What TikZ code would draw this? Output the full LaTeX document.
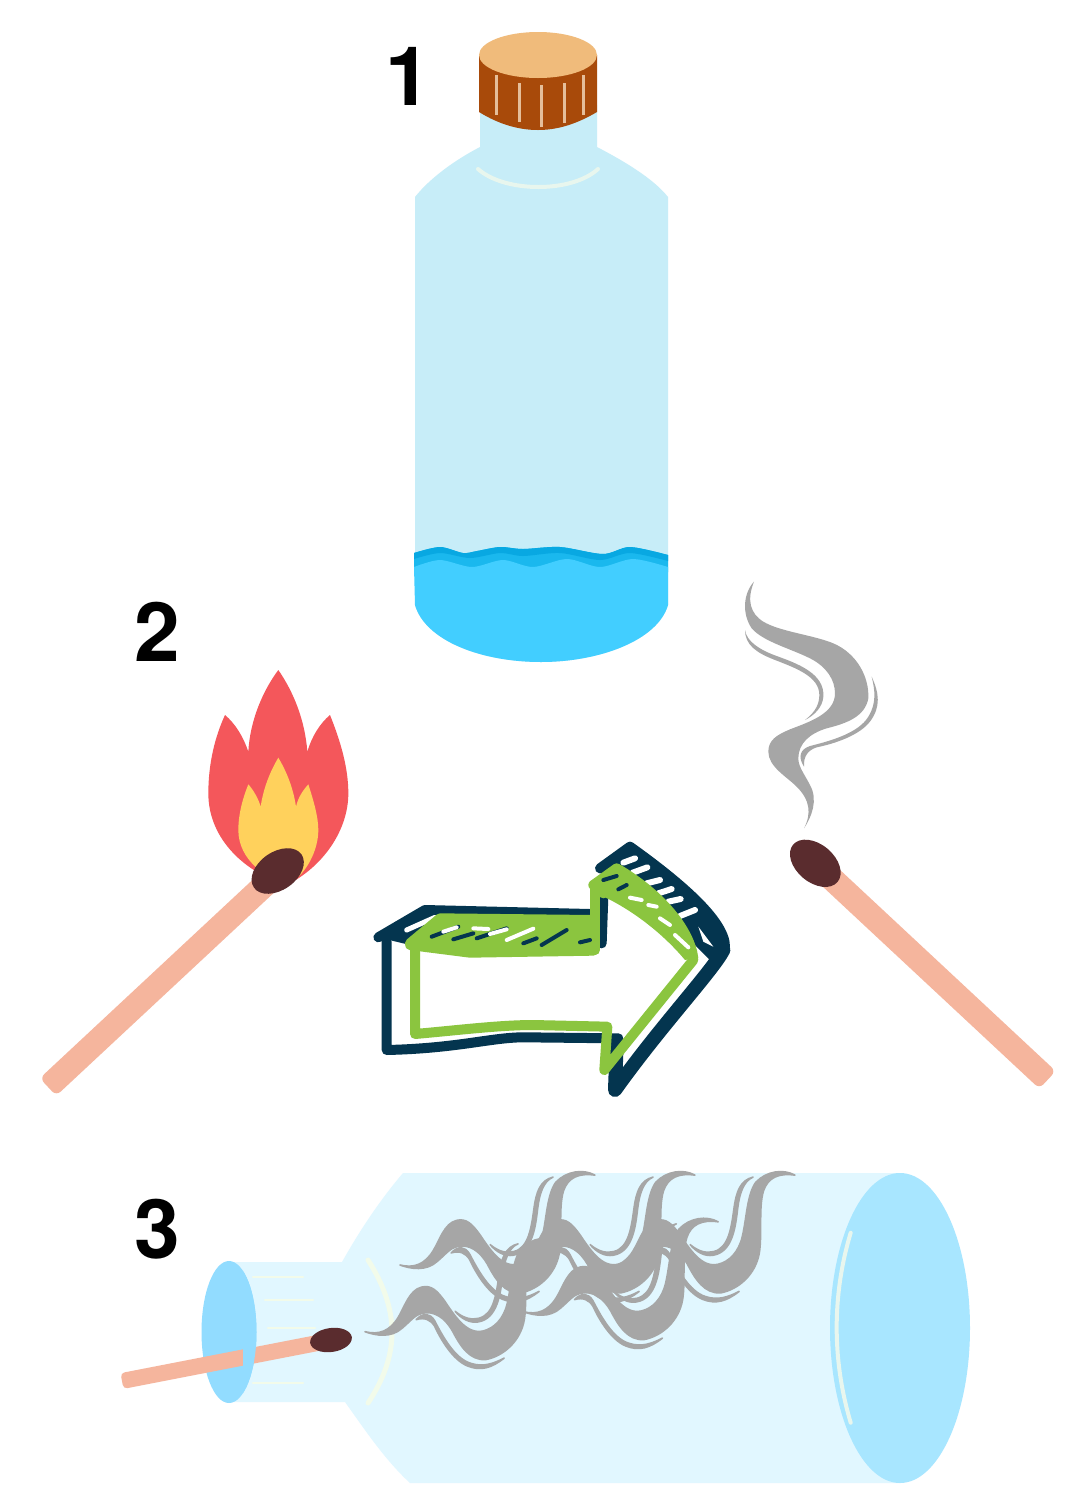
\documentclass[tikz,border=0pt]{standalone}
\usepackage{fontspec}
\setmainfont{TeX Gyre Heros}
\definecolor{glass}{HTML}{C7EDF8}
\definecolor{waterblue}{HTML}{42CEFF}
\definecolor{waveblue}{HTML}{1AB8EE}
\definecolor{wavedeep}{HTML}{08A8E2}
\definecolor{capdark}{HTML}{A84A0A}
\definecolor{captop}{HTML}{F0BB7B}
\definecolor{capline}{HTML}{E5BE9A}
\definecolor{sheen}{HTML}{E8F6EE}
\definecolor{stemcolor}{HTML}{F5B59D}
\definecolor{headcolor}{HTML}{5A2C2E}
\definecolor{flamered}{HTML}{F4575B}
\definecolor{flameyellow}{HTML}{FFD15C}
\definecolor{smokegray}{HTML}{A6A6A6}
\definecolor{navy}{HTML}{04354F}
\definecolor{leaf}{HTML}{8BC53F}
\definecolor{paleglass}{HTML}{E1F7FF}
\definecolor{endblue}{HTML}{A8E6FF}
\definecolor{neckblue}{HTML}{92DCFF}
\definecolor{cream}{HTML}{F2FBEA}
\tikzset{
  digit/.style={inner sep=0pt,font=\fontsize{82}{82}\selectfont\bfseries},
  navyline/.style={draw=navy,line width=10pt,line cap=round,line join=round},
  leafline/.style={draw=leaf,line width=10pt,line cap=round,line join=round},
  gapwhite/.style={draw=white,line width=4pt,line cap=round},
  gapnavy/.style={draw=navy,line width=4pt,line cap=round},
  creamline/.style={draw=cream,line width=3pt,line cap=round},
  matchstem/.style={fill=stemcolor,rounded corners=6pt}
}
% One curl of smoke, in its own units; the lower tip sits at (222,775).
\newcommand{\smokecurl}{%
  \fill[smokegray] (72,35) .. controls (50,90) and (60,130) .. (100,155)
    .. controls (150,185) and (250,195) .. (310,220)
    .. controls (380,250) and (418,320) .. (415,385)
    .. controls (405,440) and (350,460) .. (290,475)
    .. controls (240,490) and (205,520) .. (205,565)
    .. controls (205,590) and (222,610) .. (240,645)
    .. controls (265,690) and (245,740) .. (222,775)
    .. controls (245,730) and (240,690) .. (200,650)
    .. controls (170,620) and (115,590) .. (115,545)
    .. controls (115,510) and (140,495) .. (180,478)
    .. controls (240,455) and (315,430) .. (315,370)
    .. controls (315,330) and (290,290) .. (240,265)
    .. controls (180,235) and (100,215) .. (65,175)
    .. controls (35,130) and (40,70) .. (72,35) -- cycle;
  \fill[smokegray] (45,180) .. controls (50,215) and (90,240) .. (140,258)
    .. controls (200,280) and (285,310) .. (280,380)
    .. controls (278,410) and (255,435) .. (225,450)
    .. controls (258,425) and (268,400) .. (268,375)
    .. controls (268,320) and (200,295) .. (130,268)
    .. controls (80,248) and (45,225) .. (45,180) -- cycle;
  \fill[smokegray] (425,320) .. controls (448,370) and (452,410) .. (422,452)
    .. controls (390,497) and (310,522) .. (260,532)
    .. controls (235,540) and (220,558) .. (222,590)
    .. controls (203,560) and (210,538) .. (240,528)
    .. controls (300,513) and (385,490) .. (415,440)
    .. controls (440,400) and (435,360) .. (425,320) -- cycle;
}
\newcommand{\lyingcurl}[1]{%
  \begin{scope}[shift={#1},rotate=-76.7,scale=0.2843,shift={(-222,-775)},
      every path/.append style={draw=smokegray,line width=1.6pt,line join=round}]
    \smokecurl
  \end{scope}}
\begin{document}
\begin{tikzpicture}[x=1pt,y=-1pt]
\useasboundingbox (0,0) rectangle (1082,1500);
\fill[white] (0,0) rectangle (1082,1500);

% Upright bottle
\fill[glass] (480,105) -- (480,147) .. controls (455,160) and (430,178) .. (415,197)
  -- (415,605) .. controls (425,640) and (480,662) .. (541,662)
  .. controls (600,662) and (658,640) .. (668,605) -- (668,197)
  .. controls (653,178) and (622,160) .. (597,147) -- (597,105) -- cycle;
\fill[waveblue] plot[smooth] coordinates {(414,553)(440,547)(463,553)(477,551)(500,547)(523,549)(560,547)(603,554)(630,547)(668,555)}
  -- (668,572) -- (414,572) -- cycle;
\fill[wavedeep] plot[smooth] coordinates {(414,553)(440,547)(463,553)(477,551)(500,547)(523,549)(560,547)(603,554)(630,547)(668,555)}
  -- plot[smooth] coordinates {(668,561)(630,553)(600,560)(560,553)(523,556)(500,553)(470,558)(440,553)(414,559)} -- cycle;
\fill[waterblue] plot[smooth] coordinates {(414,567)(440,560)(472,567)(503,560)(533,567)(567,559)(600,567)(633,559)(668,567)}
  -- (668,605) .. controls (658,640) and (600,662) .. (541,662)
  .. controls (480,662) and (425,640) .. (415,605) -- cycle;
\draw[draw=sheen,line width=4pt,line cap=round] (478,169) .. controls (505,193) and (572,193) .. (598,169);

% Cap
\fill[capdark] (479,55) -- (479,112) .. controls (500,125) and (520,130) .. (538,130)
  .. controls (556,130) and (575,125) .. (597,112) -- (597,55) -- cycle;
\fill[captop] (538,55) ellipse (59 and 23);
\foreach \sx/\sa/\sb in {496/75/115,519/83/122,541/85/127,564/83/123,583/75/115}
  \draw[draw=capline,line width=3pt] (\sx,\sa) -- (\sx,\sb);

\node[digit] (one) at (408,76) {1};
\node[digit] (two) at (157,632) {2};
\node[digit] (three) at (157,1229) {3};

% Burning match
\fill[matchstem,shift={(48,1087)},rotate=43] (0,-12) rectangle (310,12);
\begin{scope}[shift={(190,660)},scale=1/3]
  \fill[flamered] (265,30) .. controls (310,95) and (345,180) .. (352,275)
    .. controls (365,230) and (390,190) .. (420,165)
    .. controls (450,240) and (475,320) .. (475,400)
    .. controls (475,510) and (400,620) .. (290,675)
    .. controls (170,640) and (55,540) .. (55,400)
    .. controls (55,310) and (75,230) .. (105,165)
    .. controls (135,190) and (160,230) .. (175,275)
    .. controls (180,180) and (220,90) .. (265,30) -- cycle;
  \fill[flameyellow] (265,293) .. controls (290,335) and (310,385) .. (318,440)
    .. controls (325,410) and (340,390) .. (355,373)
    .. controls (370,420) and (385,470) .. (385,510)
    .. controls (385,570) and (350,640) .. (300,670)
    .. controls (230,660) and (145,600) .. (145,510)
    .. controls (145,460) and (160,410) .. (175,373)
    .. controls (190,390) and (205,415) .. (212,440)
    .. controls (220,385) and (240,335) .. (265,293) -- cycle;
\end{scope}
\fill[headcolor,shift={(277.7,871)},rotate=35] (0,0) ellipse (29 and 19);

% Extinguished match with its smoke
\fill[matchstem,shift={(815,863)},rotate=-43] (0,-12) rectangle (318,12);
\fill[headcolor,shift={(815.3,863.3)},rotate=-40] (0,0) ellipse (29 and 19);
\begin{scope}[shift={(730,570)},scale=1/3]
  \smokecurl
\end{scope}

% Sketched arrow
\begin{scope}[shift={(360,830)},scale=1/3]
  \fill[navy] (55,322) -- (195,240) -- (690,252) -- (690,345) -- (150,345) -- cycle;
  \fill[navy] (720,115) -- (810,50) .. controls (950,150) and (1095,270) .. (1095,350) -- (1050,390)
    -- (960,300) -- (730,190) -- cycle;
  \draw[navyline] (80,335) -- (80,660) .. controls (300,655) and (400,620) .. (500,622) -- (775,625);
  \draw[navyline] (55,322) -- (195,240) -- (690,252);
  \draw[navyline] (730,200) -- (725,340);
  \draw[navyline] (720,115) -- (810,50) .. controls (950,150) and (1095,270) .. (1095,350);
  \draw[navyline,line width=14pt] (1090,360) .. controls (1060,420) and (900,590) .. (765,780) -- (770,640);
  \draw[gapwhite,line width=5pt] (140,300) -- (225,262);
  \foreach \ax/\ay/\bx/\by in {790/98/825/85,818/128/862/112,860/160/900/150,895/190/935/177,925/215/962/207,960/258/1005/240}
    \draw[gapwhite,line width=6pt] (\ax,\ay) -- (\bx,\by);
  \fill[white] (1015,290) -- (1060,350) -- (1030,335) -- cycle;
  \fill[leaf] (145,340) -- (240,265) -- (700,270) -- (705,365) -- (330,368) -- cycle;
  \fill[leaf] (700,165) -- (770,115) .. controls (900,190) and (990,300) .. (1000,385) -- (975,390)
    .. controls (900,300) and (800,230) .. (720,195) -- cycle;
  \draw[leafline] (165,340) -- (165,612) .. controls (300,600) and (420,585) .. (520,585) -- (742,590)
    -- (733,720) -- (1000,390);
  \draw[leafline] (1000,385) .. controls (990,300) and (900,190) .. (770,115) -- (700,165) -- (730,190);
  \draw[leafline] (705,165) -- (705,360);
  \draw[leafline] (150,340) -- (240,265) -- (700,270);
  \draw[leafline] (150,345) -- (330,368) -- (700,362);
  % hatch slivers left open in the green fill
  \foreach \ax/\ay/\bx/\by in {215/320/295/290,350/325/440/295,545/345/620/300,490/340/530/325,280/328/340/310}
    \draw[gapnavy] (\ax,\ay) -- (\bx,\by);
  \foreach \ax/\ay/\bx/\by in {250/305/290/292,340/295/385/297,390/312/440/298,440/330/520/296}
    \draw[gapwhite] (\ax,\ay) -- (\bx,\by);
  \draw[gapnavy] (660,337) -- (690,330);
  \foreach \ax/\ay/\bx/\by in {730/150/770/138,775/178/800/165}
    \draw[gapnavy] (\ax,\ay) -- (\bx,\by);
  \foreach \ax/\ay/\bx/\by in {810/203/845/210,865/225/890/230,900/265/930/285,945/315/985/352}
    \draw[gapwhite] (\ax,\ay) -- (\bx,\by);
\end{scope}

% Bottle on its side
\fill[paleglass] (230,1262) -- (342,1262) .. controls (360,1230) and (380,1200) .. (403,1173) -- (900,1173) -- (900,1483)
  -- (410,1483) .. controls (385,1460) and (365,1430) .. (345,1402) -- (230,1402) -- cycle;
\fill[neckblue] (229,1332) ellipse (27.5 and 71);
\fill[endblue] (900,1328) ellipse (70 and 155);
\draw[draw=sheen,line width=4pt,line cap=round] (850.7,1232.7) .. controls (832,1295) and (832,1360) .. (850.7,1422.7);
\draw[creamline,line width=2.5pt] (253,1277) -- (303,1277);
\draw[creamline,line width=2.5pt] (265,1300) -- (313,1300);
\draw[creamline,line width=2.5pt] (268,1328) -- (315,1328);
\draw[creamline,line width=2.5pt] (253,1383) -- (303,1383);
\draw[creamline,line width=5pt] (368,1260) .. controls (400,1310) and (400,1355) .. (368,1403);

% Smoke filling the bottle
\lyingcurl{(365,1331.7)}
\lyingcurl{(523.3,1311.7)}
\lyingcurl{(400,1265)}
\lyingcurl{(500,1265)}
\lyingcurl{(600,1265)}

% Match put into the neck
\fill[matchstem,rounded corners=4pt,shift={(122,1381)},rotate=11] (0,-8) rectangle (205,8);
\begin{scope}
  \clip (243,1250) rectangle (262,1410);
  \fill[neckblue] (229,1332) ellipse (27.5 and 71);
\end{scope}
\fill[headcolor,shift={(331,1340)},rotate=8] (0,0) ellipse (21 and 12);
\end{tikzpicture}
\end{document}
